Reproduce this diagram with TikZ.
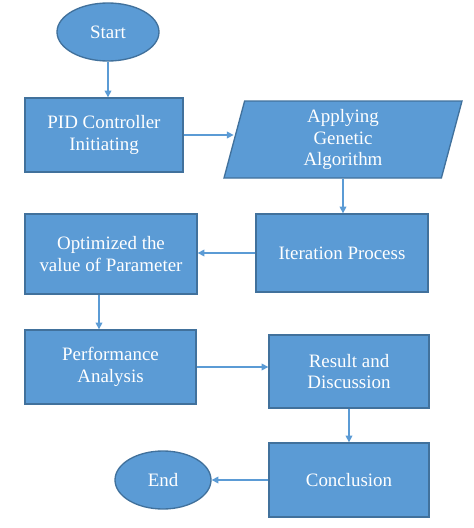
\documentclass[tikz,border=0pt]{standalone}
\usepackage{fontspec}
\setmainfont{Liberation Serif}
\usetikzlibrary{shapes.geometric, arrows.meta}
\definecolor{boxblue}{HTML}{5B9BD5}
\definecolor{edgeblue}{HTML}{41719C}

\begin{document}
\begin{tikzpicture}[x=0.75pt, y=-0.75pt,
  block/.style={draw=edgeblue, line width=1pt, fill=boxblue, text=white, align=center,
    font=\fontsize{14.2}{16}\selectfont, inner sep=0pt},
  terminal/.style={block, ellipse},
  process/.style={block, rectangle},
  inout/.style={block, trapezium, trapezium left angle=71, trapezium right angle=109,
    trapezium stretches body=true},
  flow/.style={draw=boxblue, line width=1pt, -{Triangle[length=5pt, width=5pt]}}]
\useasboundingbox (0,0) rectangle (474,528);
%the steps
\node [terminal, minimum width=76.5pt, minimum height=43.5pt] (start) at (108,32) {Start};
\node [process, minimum width=118.5pt, minimum height=55.5pt] (pid) at (104,135) {PID Controller\\Initiating};
\node [inout, minimum width=178.5pt, minimum height=57.75pt] (ga) at (343,139.5) {Applying\\Genetic\\Algorithm};
\node [process, minimum width=129pt, minimum height=58.5pt] (iter) at (342,253) {Iteration Process};
\node [process, minimum width=129pt, minimum height=60pt] (opt) at (111,254) {Optimized the\\value of Parameter};
\node [process, minimum width=128.25pt, minimum height=55.5pt] (perf) at (110.5,367) {Performance\\Analysis};
\node [process, minimum width=120pt, minimum height=54.75pt] (result) at (349,371.5) {Result and\\Discussion};
\node [process, minimum width=120pt, minimum height=55.5pt] (concl) at (349,480) {Conclusion};
\node [terminal, minimum width=72pt, minimum height=43.5pt] (stop) at (163,480) {End};
%the arrows
\draw [flow] (start.south) -- (start.south |- pid.north);
\draw [flow] (pid.east) -- (pid.east -| ga.west);
\draw [flow] (ga.south) -- (ga.south |- iter.north);
\draw [flow] (iter.west) -- (iter.west -| opt.east);
\draw [flow] ([xshift=-9pt]opt.south) -- ([xshift=-9pt]opt.south |- perf.north);
\draw [flow] (perf.east) -- (perf.east -| result.west);
\draw [flow] (result.south) -- (concl.north);
\draw [flow] (concl.west) -- (stop.east);
\end{tikzpicture}
\end{document}
